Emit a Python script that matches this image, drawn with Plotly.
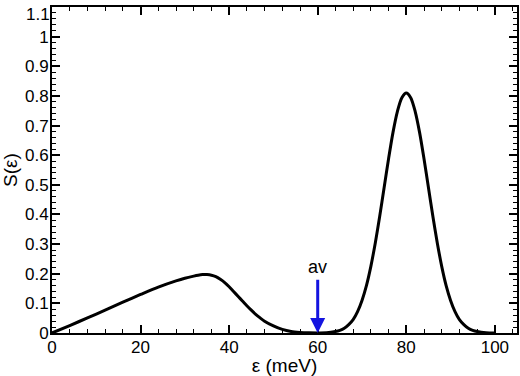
import plotly.graph_objects as go

# energy grid (meV) and spectral function values
eps = [0, 4, 8, 12, 16, 20, 24, 28, 30, 32, 33, 34, 35, 36, 37, 38, 39, 40, 41, 42,
       43, 44, 45, 46, 47, 48, 50, 52, 54, 56, 58, 60, 62, 64, 65, 66, 67, 68, 69, 70,
       71, 72, 73, 74, 75, 76, 77, 78, 79, 80, 81, 82, 83, 84, 85, 86, 87, 88, 89, 90,
       91, 92, 93, 94, 95, 96, 98, 100]
S = [0, 0.025, 0.051, 0.077, 0.104, 0.13, 0.155, 0.176, 0.185, 0.192, 0.195, 0.197,
     0.197, 0.195, 0.190, 0.181, 0.170, 0.156, 0.140, 0.124, 0.108, 0.092, 0.077,
     0.063, 0.051, 0.040, 0.024, 0.012, 0.005, 0.002, 0.0005, 0.0, 0.0005, 0.005,
     0.009, 0.016, 0.028, 0.045, 0.072, 0.110, 0.160, 0.225, 0.304, 0.394, 0.491,
     0.588, 0.677, 0.748, 0.794, 0.81, 0.794, 0.748, 0.677, 0.588, 0.491, 0.394,
     0.304, 0.225, 0.160, 0.110, 0.072, 0.045, 0.028, 0.016, 0.009, 0.005, 0.001, 0.0]

av_x = 60
av_top = 0.185
av_label = "av"

x_ticks = [0, 20, 40, 60, 80, 100]
y_ticks = [0, 0.1, 0.2, 0.3, 0.4, 0.5, 0.6, 0.7, 0.8, 0.9, 1.0, 1.1]
y_ticktext = ["0", "0.1", "0.2", "0.3", "0.4", "0.5", "0.6", "0.7", "0.8", "0.9", "1", ""]
y_top_label = "1.1"

FONT = "Liberation Sans"

fig = go.Figure()
fig.add_trace(go.Scatter(x=eps, y=S, mode="lines",
                         line=dict(color="black", width=3, shape="spline", smoothing=0.8),
                         showlegend=False, hoverinfo="skip"))

fig.add_annotation(x=av_x, y=0, ax=av_x, ay=av_top, xref="x", yref="y",
                   axref="x", ayref="y", showarrow=True, arrowhead=2,
                   arrowsize=1.0, arrowwidth=3, arrowcolor="#1414e0", text="")
fig.add_annotation(x=av_x, y=av_top, xref="x", yref="y", text=av_label,
                   showarrow=False, yanchor="bottom", yshift=-1,
                   font=dict(size=18, color="black", family=FONT))
# top y tick label, nudged down so it stays inside the page like the reference
fig.add_annotation(x=0, y=y_ticks[-1], xref="paper", yref="y", text=y_top_label,
                   showarrow=False, xanchor="right", yanchor="top", xshift=0, yshift=4,
                   font=dict(size=17, color="black", family=FONT))

axis_common = dict(showgrid=False, zeroline=False, showline=True, linecolor="black",
                   linewidth=2, mirror="allticks", ticks="inside", ticklen=8,
                   tickwidth=1.5, tickcolor="black", automargin=False,
                   ticklabeloverflow="allow", ticklabelstandoff=-2,
                   tickfont=dict(size=17, color="black", family=FONT))

fig.update_xaxes(range=[0, 105], tickvals=x_ticks,
                 minor=dict(dtick=4, tick0=0, ticks="inside", ticklen=4, tickwidth=1.2,
                            tickcolor="black"),
                 title=dict(text="ε (meV)", font=dict(size=19, color="black", family=FONT),
                            standoff=2),
                 **axis_common)
fig.update_yaxes(range=[0, 1.1001], tickvals=y_ticks, ticktext=y_ticktext,
                 minor=dict(dtick=0.02, tick0=0, ticks="inside", ticklen=4, tickwidth=1.2,
                            tickcolor="black"),
                 title=dict(text="S(ε)", font=dict(size=19, color="black", family=FONT),
                            standoff=4),
                 **axis_common)

fig.update_layout(width=520, height=376, margin=dict(l=52, r=3, t=7, b=43),
                  plot_bgcolor="white", paper_bgcolor="white",
                  font=dict(family=FONT, color="black"))

fig.write_html("out.html", config={"displayModeBar": False},
               post_script="document.body.style.margin='0';document.body.style.overflow='hidden';")
